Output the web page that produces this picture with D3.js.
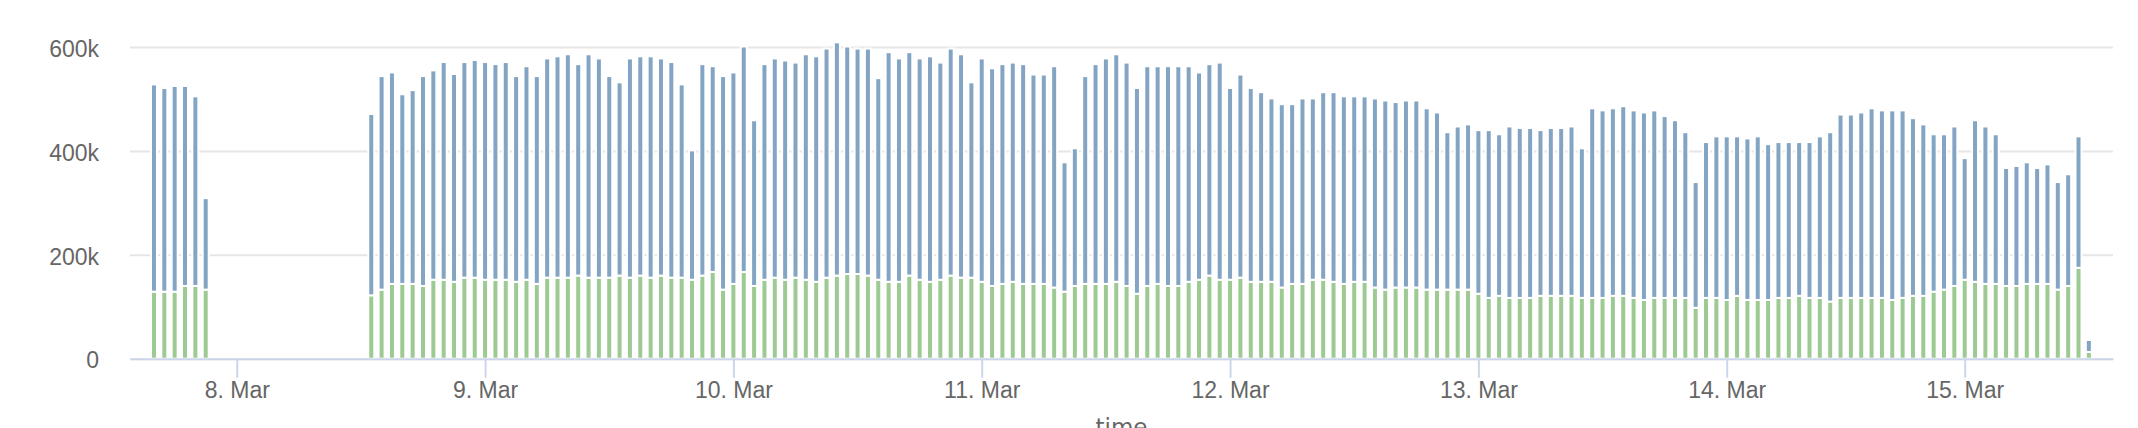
<!DOCTYPE html>
<html>
<head>
<meta charset="utf-8">
<script src="https://cdn.jsdelivr.net/npm/d3@7"></script>
<style>
body { margin: 0; background: #fff; }
svg { display: block; font-family: "DejaVu Sans", sans-serif; }
</style>
</head>
<body>
<script>
// hourly buckets (UTC), values in thousands
// short run on the evening of 7 Mar
const run1Start = Date.UTC(2021, 2, 7, 21);
const run1Green = [129, 129, 129, 140, 140, 133];
const run1Blue = [399, 392, 396, 385, 365, 176];

// long run from 8 Mar afternoon to 15 Mar noon
const run2Start = Date.UTC(2021, 2, 8, 18);
const run2Green = [
    122, 133, 144, 144, 144, 140, 152, 152, 148, 156, 156, 152,
    152, 152, 148, 152, 144, 156, 156, 156, 160, 156, 156, 156,
    160, 156, 160, 156, 160, 156, 156, 152, 160, 167, 133, 144,
    167, 140, 152, 156, 152, 156, 152, 148, 156, 160, 163, 163,
    160, 152, 148, 148, 160, 152, 148, 152, 160, 156, 156, 148,
    140, 144, 148, 144, 144, 144, 137, 129, 140, 144, 144, 144,
    148, 140, 125, 140, 144, 140, 140, 148, 152, 160, 152, 152,
    156, 148, 148, 148, 137, 144, 144, 152, 152, 148, 144, 148,
    148, 137, 133, 137, 137, 137, 133, 133, 133, 133, 133, 125,
    117, 121, 117, 117, 117, 121, 121, 121, 121, 117, 117, 117,
    121, 121, 117, 113, 117, 117, 117, 117, 98, 117, 117, 113,
    121, 113, 113, 113, 117, 117, 121, 117, 117, 110, 117, 117,
    117, 117, 117, 113, 117, 121, 121, 129, 133, 140, 152, 148,
    144, 144, 140, 140, 144, 144, 144, 133, 140, 175, 13
];
const run2Blue = [
    349, 411, 407, 365, 373, 404, 403, 419, 400, 415, 419, 419,
    415, 419, 396, 411, 400, 422, 426, 430, 407, 430, 422, 388,
    372, 422, 422, 426, 418, 415, 372, 249, 407, 396, 411, 407,
    434, 319, 415, 422, 422, 414, 434, 434, 441, 449, 438, 434,
    437, 388, 442, 430, 430, 426, 434, 418, 437, 430, 376, 430,
    419, 423, 422, 423, 403, 403, 426, 249, 265, 400, 423, 434,
    438, 430, 396, 423, 419, 423, 423, 415, 399, 407, 418, 369,
    391, 373, 365, 353, 353, 346, 357, 349, 361, 365, 361, 357,
    357, 364, 364, 357, 360, 360, 349, 341, 303, 314, 318, 315,
    323, 311, 330, 327, 327, 319, 323, 323, 326, 288, 365, 361,
    361, 365, 361, 361, 361, 350, 342, 319, 242, 300, 311, 315,
    307, 311, 315, 300, 300, 300, 296, 300, 311, 326, 353, 353,
    357, 365, 361, 365, 361, 342, 330, 303, 299, 307, 234, 311,
    303, 288, 227, 231, 234, 223, 230, 207, 215, 253, 23
];

// local midnights (US Eastern, DST starts 14 Mar)
const dayTicks = [
    "2021-03-08T05:00Z", "2021-03-09T05:00Z", "2021-03-10T05:00Z", "2021-03-11T05:00Z",
    "2021-03-12T05:00Z", "2021-03-13T05:00Z", "2021-03-14T05:00Z", "2021-03-15T04:00Z"
];
const dayLabels = ["8. Mar", "9. Mar", "10. Mar", "11. Mar", "12. Mar", "13. Mar", "14. Mar", "15. Mar"];
const yTicks = [0, 200, 400, 600];

const xStart = "2021-03-07T18:41Z";
const xEnd = "2021-03-15T18:20Z";

function init() {
    var w = 2138, h = 428;
    var left = 130, right = 2113, top = 47, bottom = 358.7;
    var hour = 3600 * 1000;

    var rows = [];
    run1Green.forEach(function(g, i) {
        rows.push({t: new Date(run1Start + i * hour), green: g, blue: run1Blue[i]});
    });
    run2Green.forEach(function(g, i) {
        rows.push({t: new Date(run2Start + i * hour), green: g, blue: run2Blue[i]});
    });

    var x = d3.scaleUtc()
        .domain([new Date(xStart), new Date(xEnd)])
        .range([left, right]);

    var y = d3.scaleLinear()
        .domain([0, 600])
        .range([bottom, top]);

    var series = d3.stack().keys(["green", "blue"])(rows);
    var colors = {green: "#9dc993", blue: "#83a5c3"};

    var svg = d3.select("body").append("svg")
        .attr("width", w)
        .attr("height", h);

    // grid + y labels
    var yAxis = svg.append("g")
        .attr("transform", "translate(" + left + ",0)")
        .call(d3.axisLeft(y)
            .tickValues(yTicks)
            .tickSizeInner(-(right - left))
            .tickSizeOuter(0)
            .tickPadding(31)
            .tickFormat(function(d) { return d === 0 ? "0" : d + "k"; }));
    yAxis.select(".domain").remove();
    yAxis.selectAll(".tick line")
        .attr("stroke", "#e6e6e6")
        .attr("stroke-width", 2);
    yAxis.selectAll(".tick text")
        .attr("fill", "#666666")
        .attr("font-size", 23)
        .attr("dy", "0.4em");

    // stacked columns, white border like the original
    svg.append("g").selectAll("g")
        .data(series)
        .enter()
        .append("g")
        .attr("fill", function(d) { return colors[d.key]; })
        .selectAll("rect")
        .data(function(d) { return d; })
        .enter()
        .append("rect")
        .attr("x", function(d) { return x(d.data.t) - 3; })
        .attr("y", function(d) { return y(d[1]); })
        .attr("width", 6)
        .attr("height", function(d) { return Math.max(0, y(d[0]) - y(d[1])); })
        .attr("stroke", "#fff")
        .attr("stroke-width", 2);

    // x axis
    var xAxis = svg.append("g")
        .attr("transform", "translate(0," + bottom + ")")
        .call(d3.axisBottom(x)
            .tickValues(dayTicks.map(function(s) { return new Date(s); }))
            .tickSizeInner(19)
            .tickSizeOuter(0)
            .tickFormat(function(d, i) { return dayLabels[i]; }));
    xAxis.select(".domain")
        .attr("stroke", "#ccd6eb")
        .attr("stroke-width", 2);
    xAxis.selectAll(".tick line")
        .attr("stroke", "#ccd6eb")
        .attr("stroke-width", 2);
    xAxis.selectAll(".tick text")
        .attr("fill", "#666666")
        .attr("font-size", 23)
        .attr("y", 398 - bottom)
        .attr("dy", 0);

    svg.append("text")
        .attr("x", (left + right) / 2)
        .attr("y", 435)
        .attr("text-anchor", "middle")
        .attr("fill", "#666666")
        .attr("font-size", 23)
        .text("time");
}
window.onload = init;
</script>
</body>
</html>
